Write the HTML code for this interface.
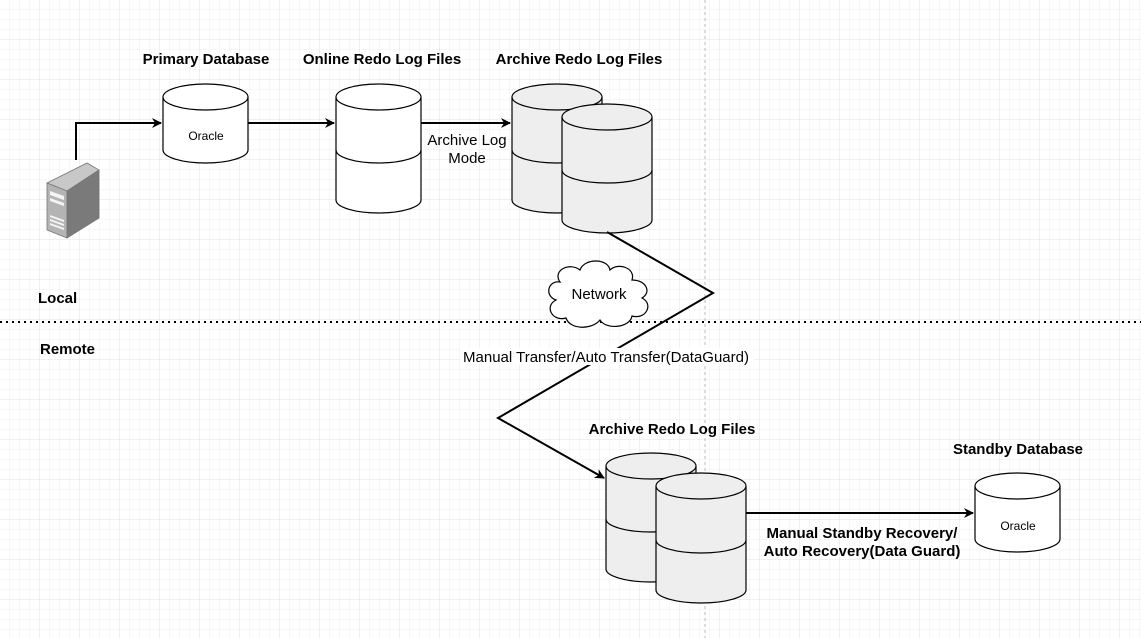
<!DOCTYPE html>
<html><head><meta charset="utf-8"><style>
body{margin:0;background:#fff;}
svg{display:block;font-family:"Liberation Sans",Arial,sans-serif;}
</style></head><body>
<svg width="1141" height="638" viewBox="0 0 1141 638" xmlns="http://www.w3.org/2000/svg">
<defs>
<pattern id="g" width="10" height="10" patternUnits="userSpaceOnUse"><path d="M10 0V10H0" fill="none" stroke="#efefef" stroke-width="1"/></pattern>
<pattern id="G" width="40" height="40" patternUnits="userSpaceOnUse"><rect width="40" height="40" fill="url(#g)"/><path d="M40 0V40H0" fill="none" stroke="#e2e2e2" stroke-width="1"/></pattern>
<marker id="a" markerWidth="10" markerHeight="10" refX="9" refY="5" orient="auto" markerUnits="userSpaceOnUse"><path d="M0 0L10 5L0 10L3 5Z" fill="#000"/></marker>
</defs>
<rect width="1141" height="638" fill="url(#G)"/>
<line x1="705" y1="0" x2="705" y2="638" stroke="#bbb" stroke-dasharray="3 3"/>
<line x1="0" y1="322" x2="1141" y2="322" stroke="#000" stroke-width="2" stroke-dasharray="2 4"/>

<g stroke="#000" stroke-width="1.2">
<path d="M163 97v53a42.5 13 0 0 0 85 0v-53" fill="#fff"/><ellipse cx="205.5" cy="97" rx="42.5" ry="13" fill="#fff"/>
<path d="M336 97v103a42.5 13 0 0 0 85 0v-103" fill="#fff"/><ellipse cx="378.5" cy="97" rx="42.5" ry="13" fill="#fff"/>
<path d="M336 150a42.5 13 0 0 0 85 0" fill="none"/>
<path d="M512 97v103a45 13 0 0 0 90 0v-103" fill="#eee"/><ellipse cx="557" cy="97" rx="45" ry="13" fill="#eee"/>
<path d="M512 150a45 13 0 0 0 90 0" fill="none"/>
<path d="M562 117v103a45 13 0 0 0 90 0v-103" fill="#eee"/><ellipse cx="607" cy="117" rx="45" ry="13" fill="#eee"/>
<path d="M562 170a45 13 0 0 0 90 0" fill="none"/>
<path d="M606 466v103a45 13 0 0 0 90 0v-103" fill="#eee"/><ellipse cx="651" cy="466" rx="45" ry="13" fill="#eee"/>
<path d="M606 519a45 13 0 0 0 90 0" fill="none"/>
<path d="M656 486v104a45 13 0 0 0 90 0v-104" fill="#eee"/><ellipse cx="701" cy="486" rx="45" ry="13" fill="#eee"/>
<path d="M656 540a45 13 0 0 0 90 0" fill="none"/>
<path d="M975 486v53a42.5 13 0 0 0 85 0v-53" fill="#fff"/><ellipse cx="1017.5" cy="486" rx="42.5" ry="13" fill="#fff"/>
<path d="M560 282c-8-12 10-20 20-12c4-12 28-12 30 0c8-8 26-2 22 10c14 0 20 12 10 18c12 6 4 22-10 18c-2 12-26 14-32 4c-8 10-30 10-34-2c-14 4-22-12-10-18c-12-4-8-20 4-18z" fill="#fff"/>
</g>

<g stroke="#777" stroke-width="0.8">
<path d="M47 183L87 163L99 170L67 191Z" fill="#c8c8c8"/>
<path d="M47 183L67 191V238L47 230Z" fill="#b4b4b4"/>
<path d="M67 191L99 170V218L67 238Z" fill="#7a7a7a"/>
</g>
<g fill="#f4f4f4">
<path d="M50 191l14 5v4l-14-5z"/><path d="M50 198l14 5v3l-14-5z"/>
<path d="M50 215l14 5v2l-14-5z"/><path d="M50 219l14 5v2l-14-5z"/><path d="M50 223l14 5v2l-14-5z"/>
</g>

<g stroke="#000" stroke-width="2" fill="none">
<path d="M76 160V123H161" marker-end="url(#a)"/>
<path d="M248 123H334" marker-end="url(#a)"/>
<path d="M421 123H510" marker-end="url(#a)"/>
<path d="M607 232L713 293L498 418L604 478" marker-end="url(#a)"/>
<path d="M746 513H973" marker-end="url(#a)"/>
</g>
<rect x="460" y="348" width="294" height="17" fill="#fff"/>

<g font-size="15" font-weight="bold" text-anchor="middle">
<text x="206" y="64">Primary Database</text>
<text x="382" y="64">Online Redo Log Files</text>
<text x="579" y="64">Archive Redo Log Files</text>
<text x="672" y="434">Archive Redo Log Files</text>
<text x="1018" y="454">Standby Database</text>
<text x="862" y="538">Manual Standby Recovery/</text>
<text x="862" y="556">Auto Recovery(Data Guard)</text>
</g>
<g font-size="15" font-weight="bold">
<text x="38" y="303">Local</text>
<text x="40" y="354">Remote</text>
</g>
<g font-size="15" text-anchor="middle">
<text x="467" y="145">Archive Log</text>
<text x="467" y="163">Mode</text>
<text x="599" y="299">Network</text>
<text x="606" y="362">Manual Transfer/Auto Transfer(DataGuard)</text>
</g>
<g font-size="12" text-anchor="middle">
<text x="206" y="140">Oracle</text>
<text x="1018" y="530">Oracle</text>
</g>
</svg>
</body></html>
